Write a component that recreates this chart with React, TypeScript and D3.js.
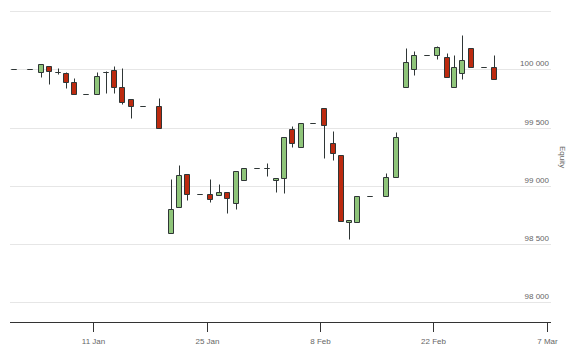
import React from "react";
import * as d3 from "d3";

// ---- data ----
const dates: string[] = [
  "2016-01-01T06:00Z", "2016-01-03T05:00Z", "2016-01-04T14:00Z", "2016-01-05T14:00Z", "2016-01-06T16:00Z",
  "2016-01-07T16:00Z", "2016-01-08T16:00Z", "2016-01-10T03:00Z", "2016-01-11T12:00Z", "2016-01-12T15:00Z",
  "2016-01-13T14:00Z", "2016-01-14T14:00Z", "2016-01-15T17:00Z", "2016-01-17T04:00Z", "2016-01-19T04:00Z",
  "2016-01-20T15:00Z", "2016-01-21T15:00Z", "2016-01-22T15:00Z", "2016-01-24T05:00Z", "2016-01-25T11:00Z",
  "2016-01-26T14:00Z", "2016-01-27T13:00Z", "2016-01-28T16:00Z", "2016-01-29T16:00Z", "2016-01-31T06:00Z",
  "2016-02-01T12:00Z", "2016-02-02T15:00Z", "2016-02-03T14:00Z", "2016-02-04T14:00Z", "2016-02-05T17:00Z",
  "2016-02-07T04:00Z", "2016-02-08T13:00Z", "2016-02-09T16:00Z", "2016-02-10T15:00Z", "2016-02-11T15:00Z",
  "2016-02-12T15:00Z", "2016-02-14T05:00Z", "2016-02-16T05:00Z", "2016-02-17T10:00Z", "2016-02-18T16:00Z",
  "2016-02-19T16:00Z", "2016-02-21T06:00Z", "2016-02-22T12:00Z", "2016-02-23T16:00Z", "2016-02-24T14:00Z",
  "2016-02-25T14:00Z", "2016-02-26T17:00Z", "2016-02-28T05:00Z", "2016-02-29T13:00Z",
];
const opens: number[] = [
  100005, 100005, 99974, 100026, 99976, 99966, 99888, 99788, 99788, 99980,
  99997, 99846, 99742, 99682, 99682, 98592, 98815, 99099, 98927, 98927,
  98918, 98944, 98850, 99047, 99150, 99157, 99047, 99064, 99485, 99330,
  99536, 99665, 99365, 99262, 98687, 98687, 98910, 98910, 99073, 99845,
  100000, 100120, 100120, 100103, 99845, 99966, 100180, 100017, 100017,
];
const highs: number[] = [
  100005, 100005, 100043, 100026, 100009, 99974, 99923, 99788, 99974, 99983,
  100028, 100011, 99742, 99682, 99751, 99058, 99178, 99099, 98927, 99058,
  99015, 98944, 99124, 99150, 99150, 99193, 99064, 99416, 99511, 99536,
  99536, 99665, 99468, 99262, 98704, 98910, 98910, 99107, 99459, 100180,
  100155, 100120, 100200, 100137, 100120, 100294, 100180, 100017, 100120,
];
const lows: number[] = [
  100005, 100005, 99936, 99871, 99962, 99837, 99785, 99788, 99788, 99794,
  99794, 99700, 99585, 99682, 99494, 98592, 98815, 98881, 98927, 98863,
  98918, 98764, 98803, 99047, 99150, 99087, 98944, 98936, 99330, 99330,
  99536, 99236, 99219, 98695, 98541, 98687, 98910, 98910, 99073, 99845,
  99948, 100120, 100086, 99931, 99845, 99917, 100017, 100017, 99914,
];
const closes: number[] = [
  100005, 100005, 100043, 99983, 99974, 99888, 99785, 99788, 99940, 99975,
  99846, 99719, 99682, 99682, 99494, 98798, 99093, 98927, 98927, 98884,
  98944, 98893, 99124, 99150, 99150, 99155, 99064, 99416, 99365, 99536,
  99536, 99519, 99279, 98695, 98704, 98910, 98910, 99073, 99416, 100060,
  100120, 100120, 100189, 99931, 100017, 100077, 100017, 100017, 99914,
];
const xTickDates: string[] = ["2016-01-11", "2016-01-25", "2016-02-08", "2016-02-22", "2016-03-07"];
const yTicks: number[] = [98000, 98500, 99000, 99500, 100000, 100500];
const yLabelTicks: number[] = [98000, 98500, 99000, 99500, 100000];
const yTitle = "Equity";

// ---- layout ----
const W = 580, H = 360;
const plotLeft = 10, plotRight = 551, plotTop = 10, plotBottom = 322;

const x = d3.scaleUtc()
  .domain([new Date("2016-01-11T00:00Z"), new Date("2016-03-07T00:00Z")])
  .range([93.3, 546.7]);
const y = d3.scaleLinear().domain([98000, 100000]).range([302.3, 69.3]);

const locale = d3.formatLocale({ decimal: ".", thousands: " ", grouping: [3], currency: ["", ""] });
const fmtY = locale.format(",");
const fmtX = d3.utcFormat("%-d %b");

const UP = "#8fc57a";
const DOWN = "#bc2a0f";
const LINE = "#2f3636";
const FONT = "'Liberation Sans', Arial, Helvetica, sans-serif";

export default function App() {
  const candles = dates.map((d, i) => ({
    t: new Date(d), o: opens[i], h: highs[i], l: lows[i], c: closes[i],
  }));
  const crisp = (v: number) => Math.round(v) + 0.5;
  return (
    <svg width={W} height={H} style={{ position: "absolute", left: 0, top: 0, background: "#fff" }}
      fontFamily={FONT}>
      {/* grid */}
      {yTicks.map((v) => (
        <line key={"g" + v} x1={plotLeft} x2={plotRight} y1={crisp(y(v))} y2={crisp(y(v))}
          stroke="#e6e6e6" strokeWidth={1} />
      ))}
      {/* y labels */}
      {yLabelTicks.map((v) => (
        <text key={"yl" + v} x={549} y={y(v) - 3} textAnchor="end" fontSize={8} fill="#666">
          {fmtY(v)}
        </text>
      ))}
      <text transform={`translate(559.5,157) rotate(90)`} textAnchor="middle" fontSize={8} fill="#666">
        {yTitle}
      </text>
      {/* x axis */}
      <line x1={plotLeft} x2={plotRight} y1={plotBottom + 0.5} y2={plotBottom + 0.5} stroke="#333" strokeWidth={1} />
      {xTickDates.map((d) => {
        const xx = crisp(x(new Date(d + "T00:00Z")));
        return (
          <g key={"xt" + d}>
            <line x1={xx} x2={xx} y1={plotBottom} y2={plotBottom + 10} stroke="#333" strokeWidth={1} />
            <text x={xx} y={344} textAnchor="middle" fontSize={8} fill="#666">
              {fmtX(new Date(d + "T00:00Z"))}
            </text>
          </g>
        );
      })}
      {/* candles */}
      {candles.map((k, i) => {
        const cx = Math.round(x(k.t));
        const left = cx - 2 + 0.5 - 0.5;
        const yTop = Math.round(y(Math.max(k.o, k.c))) + 0.5;
        const yBot = Math.round(y(Math.min(k.o, k.c))) + 0.5;
        const yH = Math.round(y(k.h)) + 0.5;
        const yL = Math.round(y(k.l)) + 0.5;
        const wx = cx + 0.5;
        const fill = k.c > k.o ? UP : k.c < k.o ? DOWN : UP;
        const bx0 = left - 0.5 + 0.5;
        const bx1 = bx0 + 4;
        return (
          <g key={"c" + i}>
            {yH < yTop && <line x1={wx} x2={wx} y1={yH} y2={yTop} stroke={LINE} strokeWidth={1} />}
            {yL > yBot && <line x1={wx} x2={wx} y1={yBot} y2={yL} stroke={LINE} strokeWidth={1} />}
            <path d={`M${bx0 - 0.5},${yTop}H${bx1 + 0.5}V${yBot}H${bx0 - 0.5}Z`}
              fill={fill} stroke={LINE} strokeWidth={1} />
          </g>
        );
      })}
    </svg>
  );
}
